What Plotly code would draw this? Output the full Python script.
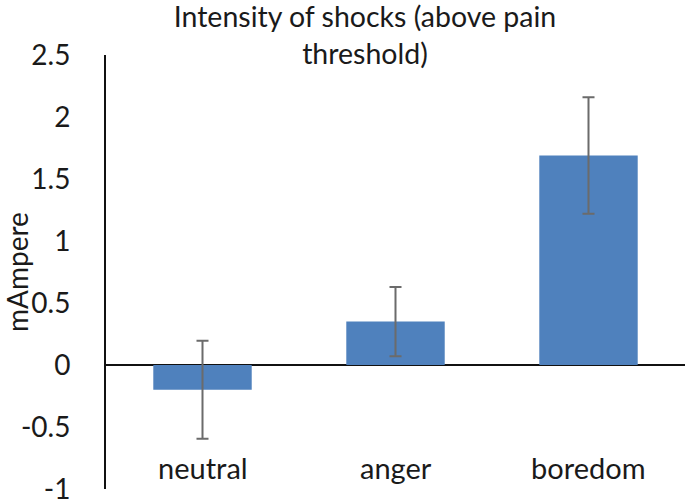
import plotly.graph_objects as go

categories = ["neutral", "anger", "boredom"]
means = [-0.2, 0.35, 1.69]
errors = [0.395, 0.28, 0.47]
y_ticks = [-1, -0.5, 0, 0.5, 1, 1.5, 2, 2.5]
y_tick_labels = ["-1", "-0.5", "0", "0.5", "1", "1.5", "2", "2.5"]
title_text = "Intensity of shocks (above pain<br>threshold)"
y_title = "mAmpere"

FONT = "Lato"
TXT = "#1a1a1a"

W, H = 685, 499
L, T, B = 106, 55, 10
plot_w = W - L

fig = go.Figure()
fig.add_trace(go.Bar(
    x=categories, y=means,
    marker=dict(color="#4F81BD", line=dict(width=0)),
    error_y=dict(type="data", array=errors, visible=True,
                 color="#6b6b6b", thickness=2, width=6),
    width=0.51,
))

for c in categories:
    fig.add_annotation(x=c, y=-0.83, xref="x", yref="y", text=c,
                       showarrow=False, font=dict(family=FONT, size=29, color=TXT),
                       xanchor="center", yanchor="middle")

fig.add_annotation(x=(17 - L) / plot_w, y=0.5, xref="paper", yref="paper",
                   text=y_title, textangle=-90, showarrow=False,
                   xanchor="center", yanchor="middle",
                   font=dict(family=FONT, size=28, color=TXT))

fig.update_layout(
    width=W, height=H,
    margin=dict(l=L, r=0, t=T, b=B, autoexpand=False),
    paper_bgcolor="white", plot_bgcolor="white",
    showlegend=False,
    title=dict(text=title_text, x=365 / W, xanchor="center", xref="container",
               y=1 - 27 / H, yanchor="top", yref="container",
               font=dict(family=FONT, size=28.5, color=TXT)),
    font=dict(family=FONT, color=TXT),
)
fig.update_xaxes(type="category", showticklabels=False, showline=False,
                 showgrid=False, zeroline=False, ticks="", automargin=False)
fig.update_yaxes(range=[-1, 2.5], tickvals=y_ticks, ticktext=y_tick_labels,
                 automargin=False, ticklabeloverflow="allow",
                 showgrid=False, zeroline=True, zerolinecolor="#111111", zerolinewidth=2,
                 showline=True, linecolor="#111111", linewidth=2, ticks="",
                 ticklabelstandoff=28,
                 tickfont=dict(family=FONT, size=28, color=TXT))

fig.write_html("out.html", config={"displayModeBar": False},
               post_script="document.body.style.margin='0';document.body.style.padding='0';")
